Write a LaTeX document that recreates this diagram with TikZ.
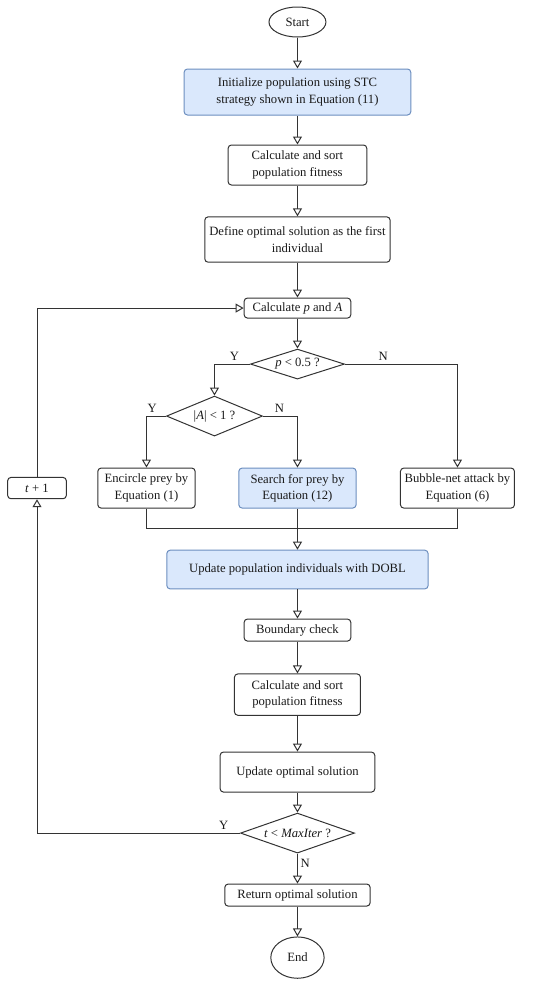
\documentclass[tikz,border=0pt]{standalone}
\usepackage{fontspec}
\setmainfont{Liberation Serif}
\usepackage{xcolor}
\usepackage{tikz}
\usetikzlibrary{arrows.meta,shapes.geometric,positioning}

\definecolor{hlfill}{HTML}{DAE8FC}
\definecolor{hlline}{HTML}{6C8EBF}
\definecolor{lnc}{HTML}{333333}

\begin{document}
\begin{tikzpicture}[->, >={Triangle[open,width=6.75pt,length=6pt]}, line width=0.75pt, draw=lnc, on grid,
  every node/.style={font=\fontsize{9.5}{12.2}\selectfont, text=black!90},
  box/.style={draw=lnc, rectangle, rounded corners=2.5pt, align=center, inner sep=2pt},
  hl/.style={box, fill=hlfill, draw=hlline},
  term/.style={draw=lnc, ellipse, inner sep=1pt},
  dec/.style={draw=lnc, diamond, aspect=3, inner sep=0pt},
  lbl/.style={draw=none, inner sep=2pt}]

\useasboundingbox (0,0) rectangle (412.5pt,-739.5pt);

\node[term, minimum width=42.75pt, minimum height=22.5pt] (start) at (223.1pt,-16.5pt) {Start};
\node[hl, minimum width=170pt, minimum height=34.5pt] (init) [below=52.5pt of start] {Initialize population using STC\\strategy shown in Equation (11)};
\node[box, minimum width=104pt, minimum height=30pt] (fit1) [below=54.75pt of init] {Calculate and sort\\population fitness};
\node[box, minimum width=139pt, minimum height=34pt] (best) [below=55.9pt of fit1] {Define optimal solution as the first\\individual};
\node[box, minimum width=80pt, minimum height=15pt] (calc) [below=51.4pt of best] {Calculate \textit{p} and \textit{A}};
\node[dec, minimum width=70.5pt, minimum height=22.5pt] (d1) [below=42pt of calc] {\textit{p} < 0.5 ?};
\node[dec, minimum width=72pt, minimum height=30pt] (d2) [below left=39pt and 62.25pt of d1] {|\textit{A}| < 1 ?};
\node[hl, minimum width=88pt, minimum height=30pt] (srch) [below=93pt of d1] {Search for prey by\\Equation (12)};
\node[box, minimum width=73pt, minimum height=30pt] (enc) [left=113.25pt of srch] {Encircle prey by\\Equation (1)};
\node[box, minimum width=85.5pt, minimum height=30pt] (bub) [right=120pt of srch] {Bubble-net attack by\\Equation (6)};
\node[box, minimum width=44pt, minimum height=16pt] (tinc) [left=82.1pt of enc] {\textit{t} + 1};
\node[hl, minimum width=196pt, minimum height=29pt] (dobl) [below=61.1pt of srch] {Update population individuals with DOBL};
\node[box, minimum width=80pt, minimum height=16.5pt] (bnd) [below=45.4pt of dobl] {Boundary check};
\node[box, minimum width=94.5pt, minimum height=31pt] (fit2) [below=48.4pt of bnd] {Calculate and sort\\population fitness};
\node[box, minimum width=116pt, minimum height=30pt] (upd) [below=58.1pt of fit2] {Update optimal solution};
\node[dec, minimum width=85.5pt, minimum height=30pt] (d3) [below=45.75pt of upd] {\textit{t} < \textit{MaxIter} ?};
\node[box, minimum width=109pt, minimum height=16.5pt] (ret) [below=46.5pt of d3] {Return optimal solution};
\node[term, minimum width=40pt, minimum height=31pt] (stop) [below=46.9pt of ret] {End};

\coordinate[below=15pt of srch.south] (m);

\path
(start) edge (init)
(init) edge (fit1)
(fit1) edge (best)
(best) edge (calc)
(calc) edge (d1)
(srch) edge (dobl)
(dobl) edge (bnd)
(bnd) edge (fit2)
(fit2) edge (upd)
(upd) edge (d3)
(d3) edge node[lbl, right, pos=0.32] {N} (ret)
(ret) edge (stop);

\draw (d1.west) -| node[lbl, above, pos=0.22] {Y} (d2.north);
\draw (d1.east) -| node[lbl, above, pos=0.17] {N} (bub.north);
\draw (d2.west) -| node[lbl, above, pos=0.35] {Y} (enc.north);
\draw (d2.east) -| node[lbl, above, pos=0.24] {N} (srch.north);
\draw[-] (enc.south) |- (m) -| (bub.south);

\draw (d3.west) -| node[lbl, above, pos=0.04] {Y} (tinc.south);
\draw (tinc.north) |- (calc.west);

\end{tikzpicture}
\end{document}
